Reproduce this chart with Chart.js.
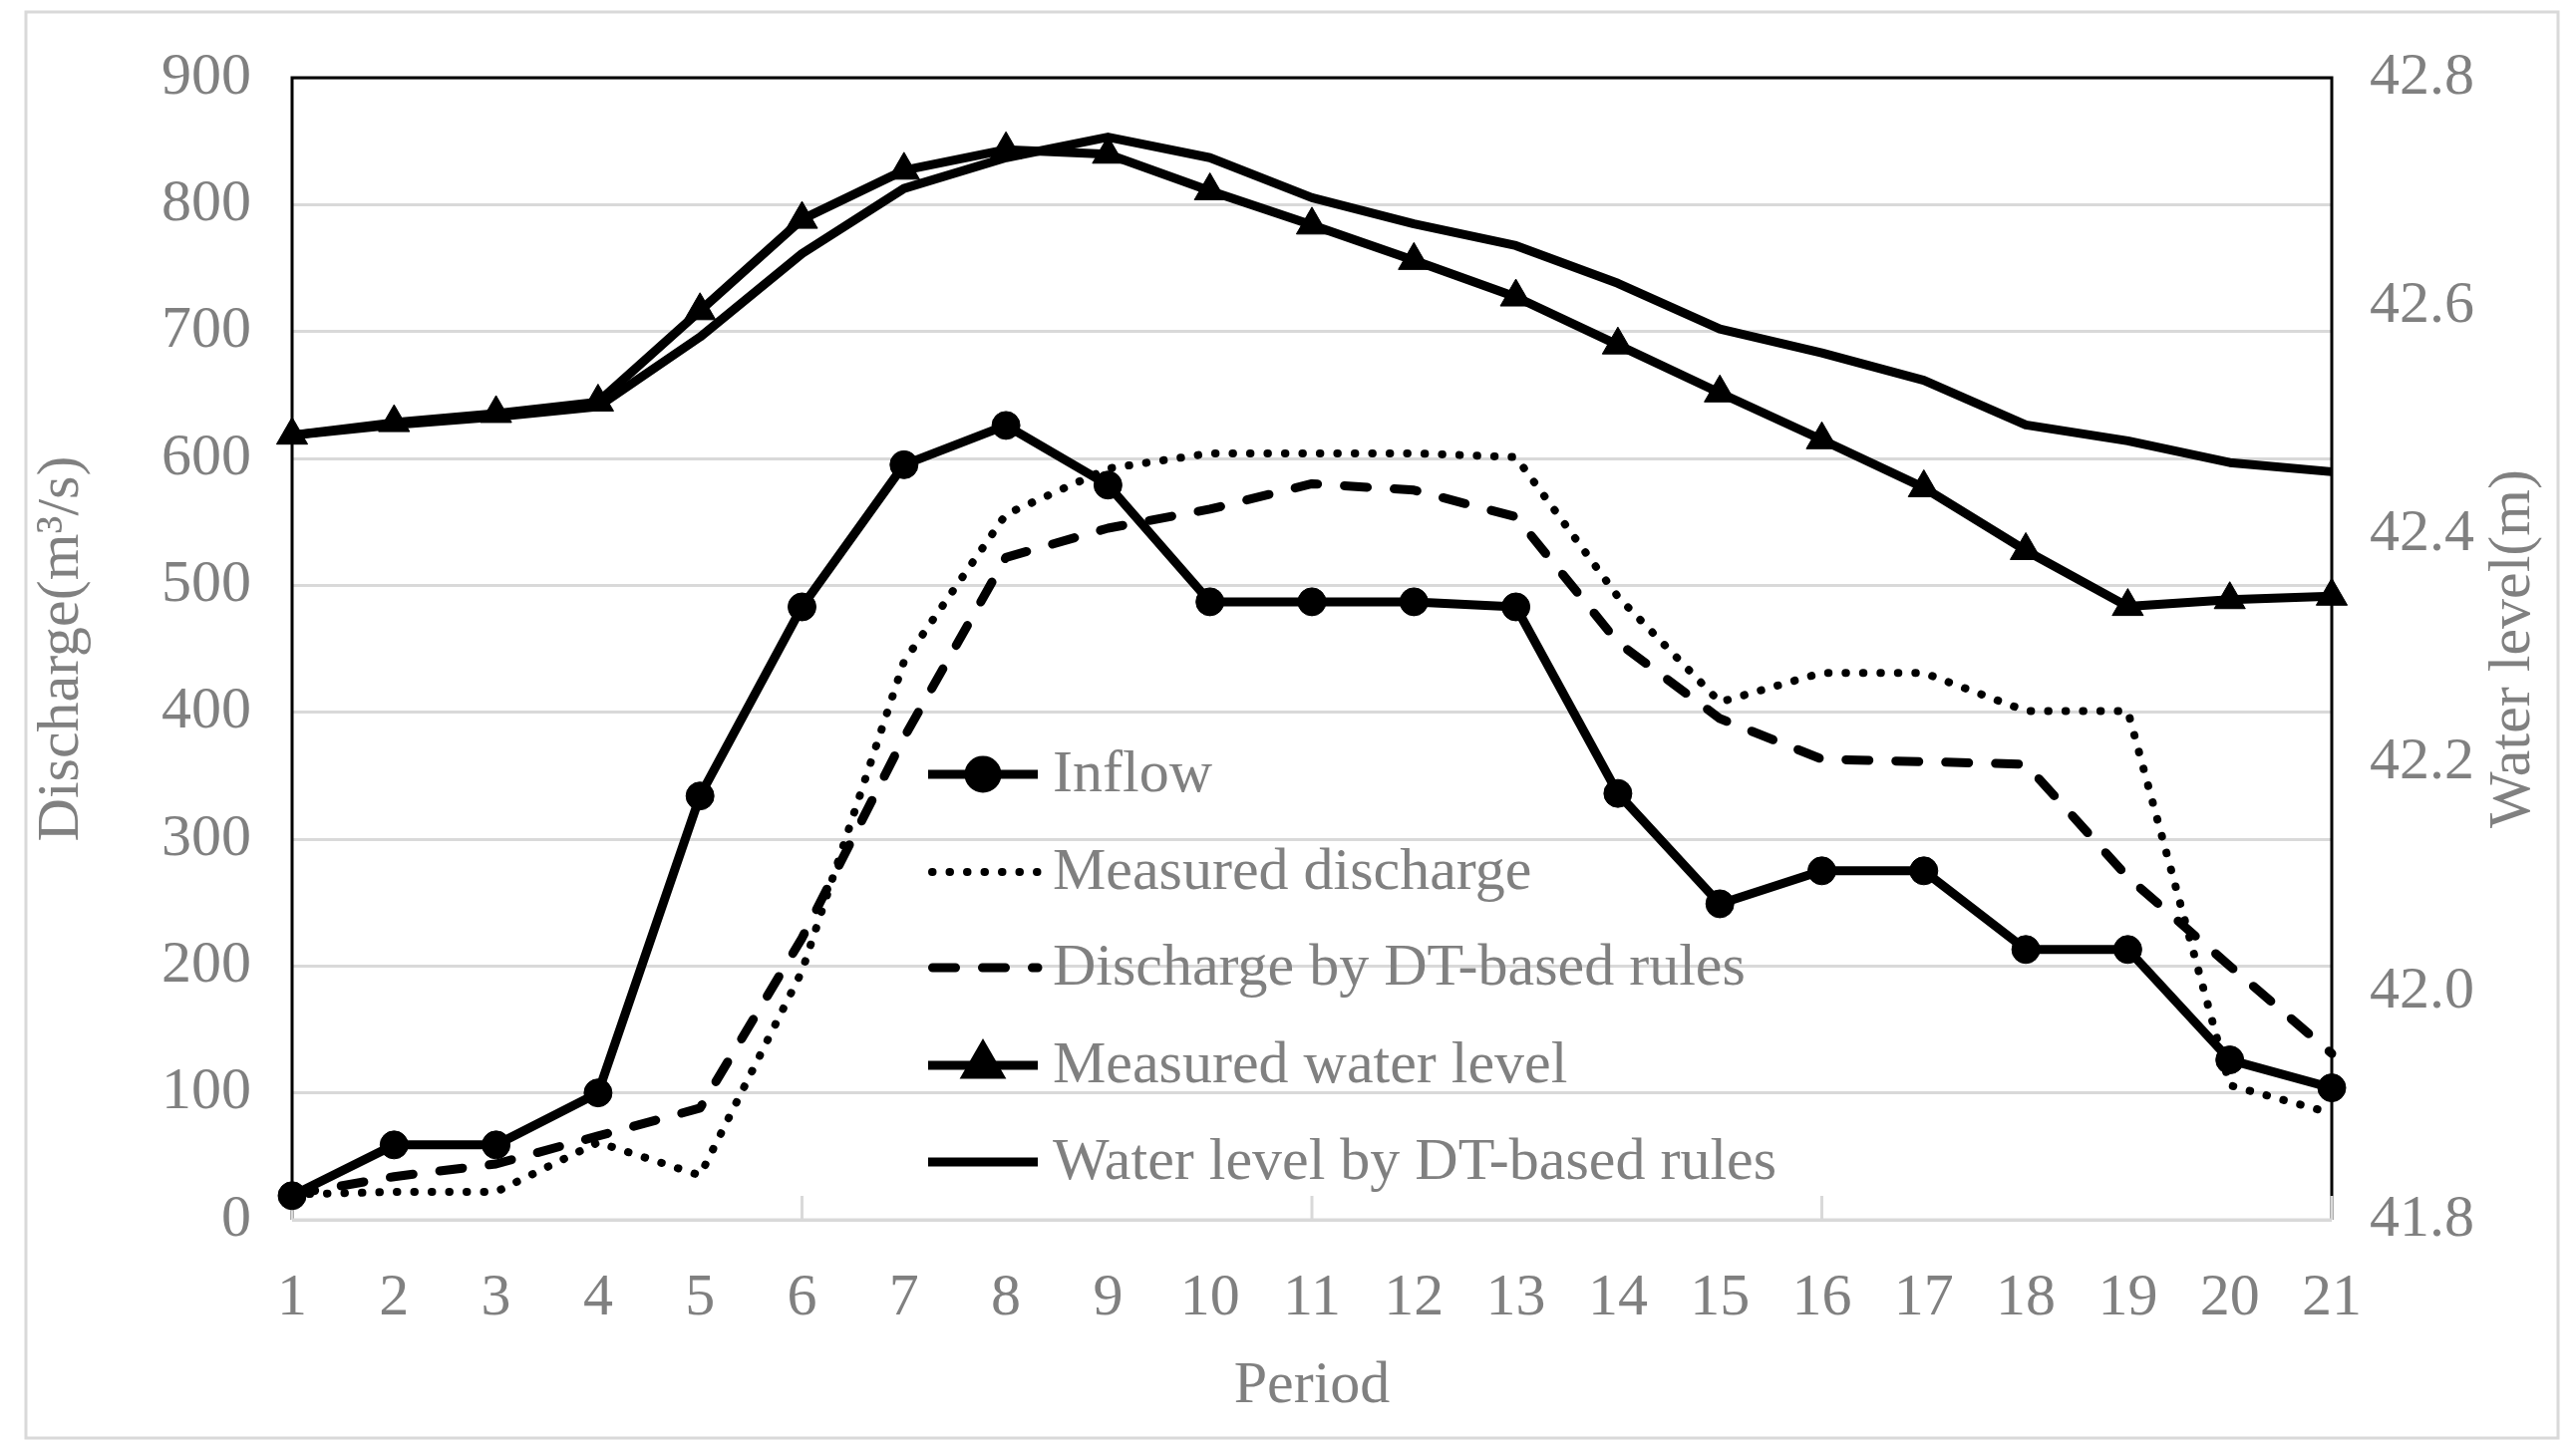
<!DOCTYPE html>
<html><head><meta charset="utf-8">
<script src="https://cdn.jsdelivr.net/npm/chart.js@4.4.0/dist/chart.umd.min.js"></script>
<style>html,body{margin:0;padding:0;background:#fff;overflow:hidden}canvas{display:block}</style>
</head><body>
<canvas id="c" width="2584" height="1454" style="width:2584px;height:1454px"></canvas>
<script>
// ---- data ----
const periods = ['1','2','3','4','5','6','7','8','9','10','11','12','13','14','15','16','17','18','19','20','21'];
const inflow = [19, 59, 59, 100, 334, 483, 595, 626, 579, 487, 487, 487, 483, 336, 249, 275, 275, 213, 213, 126, 104];
const measuredDischarge = [20, 22, 22, 61, 35, 196, 440, 556, 592, 604, 604, 604, 601, 491, 408, 431, 431, 401, 401, 106, 84];
const dtDischarge = [20, 34, 44, 66, 88, 222, 380, 522, 545, 560, 580, 575, 554, 455, 395, 363, 361, 359, 270, 200, 131];
const measuredLevel = [42.487, 42.498, 42.506, 42.516, 42.596, 42.676, 42.719, 42.737, 42.733, 42.701, 42.671, 42.640, 42.608, 42.566, 42.524, 42.483, 42.441, 42.386, 42.337, 42.343, 42.346];
const dtLevel = [42.487, 42.496, 42.503, 42.512, 42.573, 42.646, 42.703, 42.730, 42.748, 42.730, 42.695, 42.672, 42.653, 42.620, 42.580, 42.559, 42.535, 42.496, 42.482, 42.463, 42.455];
const dischargeTicks = [0, 100, 200, 300, 400, 500, 600, 700, 800, 900];
const levelTicks = [41.8, 42.0, 42.2, 42.4, 42.6, 42.8];
const xMajorTicks = ['1', '6', '11', '16', '21'];
const seriesNames = ['Inflow', 'Measured discharge', 'Discharge by DT-based rules', 'Measured water level', 'Water level by DT-based rules'];
const axisTitles = { left: 'Discharge(m\u00B3/s)', right: 'Water level(m)', bottom: 'Period' };

const FONT = "'Liberation Serif', 'Times New Roman', serif";
const GREY_TEXT = '#808080';
const GRID = '#d9d9d9';
Chart.defaults.font.family = FONT;

const LW = 9;
const common = { borderColor: '#000', backgroundColor: '#000', pointBackgroundColor: '#000', pointBorderColor: '#000',
  borderWidth: LW, tension: 0, clip: false, fill: false, borderJoinStyle: 'round', pointBorderWidth: 1, pointHoverRadius: 0 };

const datasets = [
  Object.assign({}, common, { label: seriesNames[0], data: inflow, yAxisID: 'yL', pointStyle: 'circle', pointRadius: 14 }),
  Object.assign({}, common, { label: seriesNames[1], data: measuredDischarge, yAxisID: 'yL', pointRadius: 0, borderWidth: 8, borderDash: [0.5, 17], borderCapStyle: 'round' }),
  Object.assign({}, common, { label: seriesNames[2], data: dtDischarge, yAxisID: 'yL', pointRadius: 0, borderDash: [23, 27], borderCapStyle: 'round' }),
  Object.assign({}, common, { label: seriesNames[3], data: measuredLevel, yAxisID: 'yR', pointStyle: 'triangle', pointRadius: 18 }),
  Object.assign({}, common, { label: seriesNames[4], data: dtLevel, yAxisID: 'yR', pointRadius: 0 })
];

const PLOT = { left: 293, right: 2339, top: 78, bottom: 1224 };
const W = 2584, H = 1454;

const framePlugin = {
  id: 'frame',
  beforeDraw(chart) {
    const ctx = chart.ctx;
    ctx.save();
    ctx.fillStyle = '#fff';
    ctx.fillRect(0, 0, W, H);
    ctx.strokeStyle = GRID;
    ctx.lineWidth = 3;
    ctx.strokeRect(26, 12, 2540, 1431);
    ctx.restore();
  },
  beforeDatasetsDraw(chart) {
    const ctx = chart.ctx, a = chart.chartArea, xs = chart.scales.x;
    ctx.save();
    ctx.lineWidth = 3;
    ctx.strokeStyle = '#000';
    ctx.beginPath();
    ctx.moveTo(a.left, a.bottom); ctx.lineTo(a.left, a.top); ctx.lineTo(a.right, a.top); ctx.lineTo(a.right, a.bottom);
    ctx.stroke();
    ctx.strokeStyle = GRID;
    ctx.beginPath();
    ctx.moveTo(a.left, a.bottom); ctx.lineTo(a.right, a.bottom);
    xMajorTicks.forEach(t => {
      const px = xs.getPixelForValue(periods.indexOf(t));
      ctx.moveTo(px, a.bottom); ctx.lineTo(px, a.bottom - 24);
    });
    ctx.stroke();
    ctx.restore();
  },
  afterDraw(chart) {
    const ctx = chart.ctx, a = chart.chartArea;
    const midY = (a.top + a.bottom) / 2;
    ctx.save();
    ctx.fillStyle = GREY_TEXT;
    ctx.font = '60px ' + FONT;
    ctx.textAlign = 'center';
    ctx.textBaseline = 'middle';
    ctx.fillText(axisTitles.bottom, (a.left + a.right) / 2, 1391);
    ctx.save();
    ctx.translate(62, midY);
    ctx.rotate(-Math.PI / 2);
    ctx.fillText(axisTitles.left, 0, 0);
    ctx.restore();
    ctx.save();
    ctx.translate(2521, midY);
    ctx.rotate(-Math.PI / 2);
    ctx.fillText(axisTitles.right, 0, 0);
    ctx.restore();
    ctx.restore();
  }
};

const legendPlugin = {
  id: 'innerLegend',
  afterDatasetsDraw(chart) {
    const ctx = chart.ctx;
    const x0 = 931, x1 = 1041, tx = 1056;
    const ys = [777, 875, 971, 1069, 1166];
    ctx.save();
    chart.data.datasets.forEach((ds, i) => {
      const y = ys[i];
      ctx.save();
      ctx.strokeStyle = '#000';
      ctx.fillStyle = '#000';
      ctx.lineWidth = ds.borderWidth;
      ctx.lineCap = ds.borderCapStyle || 'butt';
      ctx.setLineDash(ds.borderDash || []);
      ctx.beginPath();
      const start = ds.borderDash ? x0 + ds.borderWidth / 2 : x0;
      ctx.moveTo(start, y); ctx.lineTo(x1, y);
      ctx.stroke();
      ctx.setLineDash([]);
      if (ds.pointRadius > 0) {
        Chart.helpers.drawPoint(ctx, { pointStyle: ds.pointStyle, radius: ds.pointRadius, borderWidth: 1, rotation: 0 }, (x0 + x1) / 2, y);
      }
      ctx.restore();
      ctx.fillStyle = GREY_TEXT;
      ctx.font = '60px ' + FONT;
      ctx.textAlign = 'left';
      ctx.textBaseline = 'middle';
      ctx.fillText(ds.label, tx, y + 1);
    });
    ctx.restore();
  }
};

new Chart(document.getElementById('c'), {
  type: 'line',
  data: { labels: periods, datasets },
  options: {
    responsive: false,
    animation: false,
    events: [],
    layout: { padding: { left: 0, right: 0, top: PLOT.top, bottom: 0 } },
    plugins: { legend: { display: false }, tooltip: { enabled: false } },
    scales: {
      x: {
        type: 'category',
        offset: false,
        grid: { display: false, drawTicks: false },
        border: { display: false },
        ticks: { color: GREY_TEXT, font: { size: 60, family: FONT }, padding: 43, maxRotation: 0, autoSkip: false },
        afterFit: s => { s.height = H - PLOT.bottom; }
      },
      yL: {
        position: 'left',
        min: dischargeTicks[0], max: dischargeTicks[dischargeTicks.length - 1],
        afterBuildTicks: s => { s.ticks = dischargeTicks.map(v => ({ value: v })); },
        grid: { color: GRID, lineWidth: 3, drawTicks: false },
        border: { display: false },
        ticks: { color: GREY_TEXT, font: { size: 60, family: FONT }, padding: 41 },
        afterFit: s => { s.width = PLOT.left; }
      },
      yR: {
        position: 'right',
        min: levelTicks[0], max: levelTicks[levelTicks.length - 1],
        afterBuildTicks: s => { s.ticks = levelTicks.map(v => ({ value: v })); },
        grid: { display: false, drawTicks: false },
        border: { display: false },
        ticks: { color: GREY_TEXT, font: { size: 60, family: FONT }, padding: 38, callback: v => Number(v).toFixed(1) },
        afterFit: s => { s.width = W - PLOT.right; }
      }
    }
  },
  plugins: [framePlugin, legendPlugin]
});
</script>
</body></html>
